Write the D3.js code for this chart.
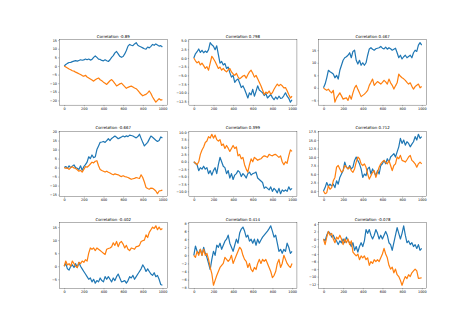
<!DOCTYPE html>
<html><head><meta charset="utf-8">
<script src="https://cdn.jsdelivr.net/npm/d3@7"></script>
<style>html,body{margin:0;padding:0;background:#fff;} svg{display:block;}</style>
</head><body>
<svg id="c" width="474" height="331"></svg>
<script>
const titles = ["Correlation -0.89","Correlation 0.798","Correlation 0.467",
                "Correlation -0.667","Correlation 0.399","Correlation 0.712",
                "Correlation -0.402","Correlation 0.414","Correlation -0.078"];
const xTickValues = [0,200,400,600,800,1000];
const yTickValues = [
  [-20,-15,-10,-5,0,5,10,15],
  [-12.5,-10,-7.5,-5,-2.5,0,2.5,5],
  [-5,0,5,10,15],
  [-15,-10,-5,0,5,10,15,20],
  [-10,-7.5,-5,-2.5,0,2.5,5,7.5,10],
  [0,2.5,5,7.5,10,12.5,15,17.5],
  [-5,0,5,10,15],
  [-8,-6,-4,-2,0,2,4,6,8],
  [-12,-10,-8,-6,-4,-2,0,2,4]
];
const yTickDecimals = [0,1,0,0,1,1,0,0,0];

const blue1 = [0,0.8,1.5,2,2.1,2.5,2.8,3.1,2.8,3.2,3.6,3.3,3.5,4.0,3.6,4.0,3.4,3.8,5.0,5.8,5.0,4.0,3.8,3.2,3.0,3.6,3.0,2.6,3.6,5.0,6.0,7.6,8.4,7.0,5.6,5.0,5.5,7.0,9.0,11.5,12.5,12.0,11.8,12.8,13.5,12.0,11.4,11.0,10.5,10.0,9.8,11.0,10.5,11.4,12.5,12.0,12.8,12.2,11.5,11.8,11.0];
const orange1 = [0,-0.6,-1.2,-1.8,-2.2,-2.8,-3.0,-3.6,-4.0,-4.5,-5.0,-5.6,-6.0,-5.4,-6.4,-7.0,-7.6,-8.2,-8.8,-8.0,-7.4,-7.0,-8.0,-8.6,-9.4,-10.0,-10.7,-9.6,-8.6,-7.9,-9.0,-10.2,-11.6,-11.0,-10.4,-10.0,-11.0,-12.0,-13.0,-12.4,-12.0,-11.7,-12.2,-12.8,-13.2,-14.2,-15.4,-16.4,-17.3,-16.8,-16.5,-15.6,-14.5,-16.0,-18.0,-19.5,-21.0,-20.0,-19.0,-19.8,-19.5];

const blue2 = [0,1.2,1.8,2.6,1.6,2.2,1.5,2.0,1.6,2.4,4.4,3.8,3.4,2.4,3.5,1.0,-1.5,-1.0,-2.0,-1.6,-3.0,-2.6,-4.2,-5.5,-5.0,-7.0,-6.4,-6.0,-7.2,-8.5,-8.0,-9.0,-10.2,-11.5,-10.0,-10.6,-9.0,-11.0,-9.6,-8.0,-9.2,-9.6,-10.0,-10.8,-10.2,-11.5,-11.0,-10.5,-11.4,-12.0,-11.2,-11.8,-11.0,-11.6,-11.5,-10.8,-10.0,-11.0,-11.6,-12.7,-12.0];
const orange2 = [0,-0.8,-1.4,-1.0,-2.0,-1.5,-2.2,-3.0,-2.5,-3.5,-1.5,0.5,-0.2,-1.0,-2.0,-3.0,-2.6,-3.5,-3.0,-3.6,-4.0,-3.4,-3.0,-4.0,-4.6,-5.0,-4.4,-5.4,-6.0,-5.6,-5.2,-5.0,-5.8,-4.8,-4.0,-3.5,-4.4,-5.5,-5.0,-6.0,-7.0,-8.0,-9.2,-10.5,-9.8,-10.2,-9.5,-10.4,-10.0,-9.0,-8.2,-7.5,-8.0,-7.6,-8.0,-8.6,-8.5,-9.4,-10.5,-11.5,-11.0];

const blue3 = [0,1.5,4.0,7.0,6.4,6.0,5.5,4.0,5.0,3.5,7.0,9.0,11.0,12.0,12.4,13.0,14.0,12.0,14.5,15.0,11.0,9.5,11.0,9.0,10.0,9.0,10.0,13.0,15.5,16.0,15.4,15.0,15.6,15.8,16.0,16.5,15.8,15.5,16.2,15.4,16.0,15.6,15.0,15.4,15.8,14.0,12.0,13.0,11.5,12.4,13.0,12.0,12.5,13.0,12.0,14.0,15.0,14.5,17.0,18.0,17.0];
const orange3 = [0,-0.6,-1.0,-0.5,-1.4,-2.0,-1.0,-5.7,-4.0,-3.0,-2.0,-3.2,-4.5,-4.2,-4.0,-5.0,-3.0,-4.5,-2.0,0.0,1.0,-0.6,-2.0,-3.5,-3.0,-2.5,-1.8,-1.0,1.0,2.2,3.5,1.0,1.8,2.5,2.0,1.5,2.2,3.0,2.4,1.5,3.5,2.0,1.0,-0.5,0.8,2.0,5.5,4.6,4.0,3.6,3.0,2.2,1.5,2.0,0.6,-0.5,0.5,1.0,1.5,0.0,0.5];

const blue4 = [0,0.6,-0.4,1.0,0.0,0.8,1.5,0.0,-0.4,-1.0,1.0,-1.5,0.5,1.6,3.0,6.0,5.0,7.0,5.5,6.0,10.0,12.0,14.0,14.2,14.5,14.0,15.0,16.0,15.0,16.2,16.8,17.5,16.8,16.0,16.5,17.0,17.5,17.0,17.6,17.2,18.0,17.8,17.5,17.0,16.5,17.2,18.5,16.2,14.0,12.0,13.0,14.0,15.8,17.5,16.8,16.0,15.2,14.5,15.0,17.0,16.5];
const orange4 = [0,-0.4,-0.2,-1.0,0.0,0.5,-0.2,-0.5,-1.2,-2.0,-1.5,-2.5,-1.0,0.5,0.2,1.0,2.0,3.0,2.6,3.5,3.8,1.0,-1.0,-1.6,-2.0,-2.5,-2.0,-2.6,-3.0,-3.6,-4.0,-3.5,-3.8,-4.0,-4.6,-5.0,-4.5,-5.0,-5.2,-5.5,-6.0,-6.5,-6.2,-6.0,-5.5,-5.8,-6.0,-4.0,-5.5,-8.0,-11.0,-11.6,-12.0,-11.4,-11.5,-12.2,-13.0,-14.5,-13.0,-12.8,-12.5];

const blue5 = [0,-0.6,-1.0,-3.0,-2.0,-2.5,-1.5,-2.5,-2.0,-4.0,-3.0,-4.5,-3.0,-2.0,-4.0,-1.0,1.5,0.0,-1.5,-2.0,-4.0,-3.0,-5.5,-4.0,-6.0,-4.5,-4.0,-3.0,-3.5,-5.0,-4.0,-4.6,-5.5,-4.0,-3.5,-4.5,-4.0,-3.8,-3.5,-5.5,-6.0,-6.5,-7.0,-9.0,-8.5,-9.0,-9.5,-8.5,-10.0,-9.0,-9.6,-10.5,-9.0,-10.8,-9.5,-10.0,-9.5,-10.0,-8.5,-9.5,-9.0];
const orange5 = [0,-0.4,-1.0,0.0,2.5,4.0,5.0,6.5,7.0,8.5,8.0,9.3,8.0,9.0,7.5,7.0,7.5,5.5,6.0,4.5,5.5,4.6,3.5,4.5,5.5,4.5,5.0,2.0,2.5,1.0,1.5,-1.0,-2.5,-3.5,-1.0,1.0,0.0,1.5,1.0,0.5,0.8,1.0,1.6,2.0,1.8,1.5,2.5,2.2,2.0,2.4,2.5,2.0,1.5,2.0,0.0,-1.0,0.0,-0.5,2.0,4.0,3.5];

const blue6 = [0,1.0,2.5,1.4,2.0,1.5,2.0,1.0,3.0,2.0,4.0,5.0,6.0,8.5,7.0,6.5,7.5,6.5,7.0,9.0,10.0,9.0,8.0,6.5,4.0,5.0,4.5,6.5,7.0,5.0,6.5,5.5,4.5,6.0,5.0,7.5,8.0,9.0,8.0,9.5,8.5,10.0,10.5,11.0,10.0,11.5,13.0,15.5,14.0,15.0,13.5,14.5,14.0,13.0,13.8,14.5,16.0,15.0,16.7,15.5,16.0];
const orange6 = [0,-0.8,-0.5,1.5,0.5,1.0,3.0,4.0,7.0,7.5,6.5,5.5,6.0,7.5,7.0,6.5,7.0,6.0,5.5,6.5,8.5,10.0,9.5,8.0,7.5,8.0,7.0,5.0,3.5,4.5,5.5,6.0,4.0,5.5,7.0,8.0,8.6,9.0,8.4,8.0,9.0,7.5,6.0,7.5,8.0,10.0,9.5,10.5,9.0,8.8,8.5,9.2,10.0,10.5,9.0,8.6,8.0,7.0,8.0,8.5,8.0];

const blue7 = [0,1.0,-1.0,-1.5,0.0,0.5,-0.5,1.0,-0.5,1.5,0.0,-1.0,-2.0,-3.0,-4.0,-5.0,-4.5,-6.0,-5.0,-6.5,-5.5,-6.0,-4.5,-5.5,-6.0,-4.0,-5.0,-4.0,-5.0,-6.0,-4.5,-5.5,-4.0,-3.0,-4.5,-6.0,-5.8,-5.5,-6.5,-5.5,-4.0,-4.5,-3.5,-5.0,-4.0,-3.0,-2.0,-1.0,0.5,-0.5,-2.0,-1.0,-2.0,-3.0,-3.5,-2.5,-4.0,-3.5,-5.0,-7.0,-7.3];
const orange7 = [0,2.0,0.5,1.0,0.0,2.0,1.0,0.0,-0.5,1.5,1.0,2.0,1.5,2.5,2.0,5.0,7.0,6.5,7.0,6.0,7.0,6.5,6.0,5.5,5.0,4.5,6.5,6.8,7.0,7.5,9.0,8.0,9.5,7.5,9.0,9.5,8.5,7.0,8.0,6.5,6.0,7.0,6.8,6.5,7.5,7.6,8.0,9.5,9.8,10.0,12.0,11.0,13.0,14.0,15.0,14.5,15.5,14.0,15.0,14.0,14.5];

const blue8 = [0,2.3,1.0,0.5,1.5,0.0,2.0,0.5,-0.5,-2.0,-3.5,-1.0,1.0,0.0,2.5,2.0,3.0,1.5,2.5,3.5,4.0,5.0,3.0,2.0,1.0,2.5,4.0,3.0,5.5,6.5,7.0,6.0,4.5,5.0,3.5,4.0,3.0,4.0,2.5,4.0,3.0,3.8,4.5,5.0,5.5,6.0,6.6,7.3,6.0,4.5,5.0,3.0,1.0,1.5,0.5,1.5,1.0,3.0,2.0,0.5,1.0];
const orange8 = [0,-0.5,1.0,0.0,1.5,0.0,1.5,0.0,0.5,-1.0,-3.0,-4.5,-7.4,-6.2,-5.0,-4.0,-3.0,-2.5,-2.0,-0.5,-1.0,-1.5,-1.0,0.0,-2.0,-1.0,0.0,1.0,2.0,1.5,0.0,-1.0,-1.5,-3.0,-2.0,-3.5,-4.0,-3.0,-3.5,-2.0,-1.0,-2.0,-1.0,-1.5,-1.0,-2.0,-3.0,-4.0,-5.5,-5.0,-4.0,-2.0,-1.0,-3.0,-2.0,0.0,-1.0,-2.0,-2.6,-3.0,-2.0];

const blue9 = [0,-0.5,1.0,2.0,1.5,0.5,1.0,0.0,-0.5,-1.5,-0.5,-1.0,0.0,-1.0,0.5,-0.5,-1.0,-2.0,-1.0,-3.0,-2.0,-3.5,-2.0,-1.0,-2.0,-0.5,2.5,1.5,2.5,1.0,0.0,1.0,2.5,1.5,0.0,1.0,0.0,1.0,2.0,1.0,-1.0,-1.5,-3.0,-1.0,1.0,3.0,1.5,0.0,1.5,3.5,1.0,-1.0,-0.5,-1.5,-1.0,-2.0,-1.5,-2.5,-1.5,-3.0,-2.5];
const orange9 = [0,-1.5,0.5,2.0,1.0,1.5,0.0,-1.0,0.5,0.0,1.0,0.0,-1.5,0.0,-1.0,0.0,-1.5,-0.5,-3.5,-4.0,-4.5,-4.0,-5.5,-4.5,-5.0,-4.5,-5.5,-5.0,-7.0,-6.0,-6.5,-5.5,-6.0,-5.5,-6.0,-5.0,-4.0,-2.5,-4.0,-5.0,-7.0,-8.0,-7.5,-9.0,-8.0,-9.5,-10.0,-11.0,-12.3,-11.0,-10.0,-10.5,-9.5,-10.0,-9.0,-8.5,-8.0,-8.5,-10.5,-10.4,-10.3];

const blueSeries = [blue1,blue2,blue3,blue4,blue5,blue6,blue7,blue8,blue9];
const orangeSeries = [orange1,orange2,orange3,orange4,orange5,orange6,orange7,orange8,orange9];

const W = 474, H = 331;
const svg = d3.select("#c");
const figLeft = 0.125 * W, figRight = 0.9 * W, figTop = 0.12 * H;
const cw = (figRight - figLeft) / 3.4;
const rh = 65.4;
const font = "'DejaVu Sans', sans-serif";
const tickFs = 3.4, titleFs = 3.95, tickLen = 1.15, tickPad = 1.15;

for (let k = 0; k < 9; k++) {
  const r = Math.floor(k / 3), c = k % 3;
  const x0 = figLeft + c * cw * 1.2;
  const y0 = figTop + r * rh * 1.4;
  const g = svg.append("g").attr("transform", `translate(${x0},${y0})`);
  const nMax = 999;
  const xs = d3.scaleLinear().domain([-0.05 * nMax, nMax * 1.05]).range([0, cw]);
  const all = blueSeries[k].concat(orangeSeries[k]);
  const ext = d3.extent(all);
  const pad = (ext[1] - ext[0]) * 0.05;
  const ys = d3.scaleLinear().domain([ext[0] - pad, ext[1] + pad]).range([rh, 0]);

  const line = d3.line()
    .x((d, i, arr) => xs(i * nMax / (arr.length - 1)))
    .y(d => ys(d));

  g.append("path").datum(blueSeries[k]).attr("d", line)
    .attr("fill", "none").attr("stroke", "#1f77b4").attr("stroke-width", 1.2)
    .attr("stroke-linejoin", "round");
  g.append("path").datum(orangeSeries[k]).attr("d", line)
    .attr("fill", "none").attr("stroke", "#ff7f0e").attr("stroke-width", 1.2)
    .attr("stroke-linejoin", "round");

  const xAxis = g.append("g").attr("transform", `translate(0,${rh})`)
    .call(d3.axisBottom(xs).tickValues(xTickValues).tickSize(tickLen).tickPadding(tickPad).tickFormat(d3.format("d")));
  const yAxis = g.append("g")
    .call(d3.axisLeft(ys).tickValues(yTickValues[k]).tickSize(tickLen).tickPadding(tickPad)
      .tickFormat(d3.format(yTickDecimals[k] ? ".1f" : "d")));
  [xAxis, yAxis].forEach(a => {
    a.select(".domain").remove();
    a.selectAll("line").attr("stroke", "#000").attr("stroke-width", 0.25);
    a.selectAll("text").attr("fill", "#000").style("font-size", tickFs + "px").style("font-family", font);
  });
  xAxis.selectAll("text").attr("dy", "0.71em");

  g.append("rect").attr("x", 0).attr("y", 0).attr("width", cw).attr("height", rh)
    .attr("fill", "none").attr("stroke", "#000").attr("stroke-width", 0.3);

  g.append("text").attr("x", cw / 2).attr("y", -2)
    .attr("text-anchor", "middle").style("font-size", titleFs + "px").style("font-family", font)
    .attr("fill", "#000").text(titles[k]);
}
</script>
</body></html>
